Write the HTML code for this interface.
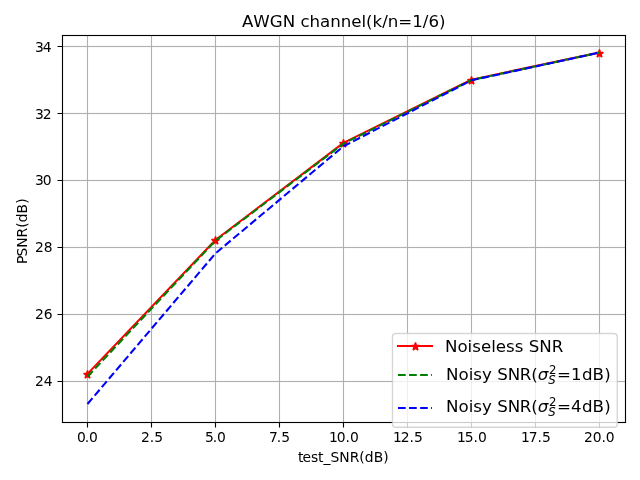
<!DOCTYPE html>
<html><head><meta charset="utf-8"><title>AWGN channel(k/n=1/6)</title>
<style>html,body{margin:0;padding:0;background:#fff;width:640px;height:480px;overflow:hidden}svg{display:block}</style>
</head><body>
<svg width="640" height="480" viewBox="0 0 640 480">
<rect x="0" y="0" width="640" height="480" fill="#ffffff"/>
<defs><clipPath id="ax"><rect x="61.900" y="35.000" width="563.100" height="386.580"/></clipPath></defs>
<path d="M87.5 422.5V35.5M151.5 422.5V35.5M215.5 422.5V35.5M279.5 422.5V35.5M343.5 422.5V35.5M407.5 422.5V35.5M471.5 422.5V35.5M535.5 422.5V35.5M599.5 422.5V35.5" stroke="#b0b0b0" stroke-width="1.1111" fill="none" stroke-linecap="square"/>
<path d="M61.944 380.9444H626.056V382.0556H61.944ZM61.944 313.9444H626.056V315.0556H61.944ZM61.944 246.9444H626.056V248.0556H61.944ZM61.944 179.9444H626.056V181.0556H61.944ZM61.944 112.9444H626.056V114.0556H61.944ZM61.944 45.9444H626.056V47.0556H61.944Z" fill="#b0b0b0"/>
<path d="M61.944 380H626.056V381H61.944ZM61.944 382H626.056V383H61.944ZM61.944 313H626.056V314H61.944ZM61.944 315H626.056V316H61.944ZM61.944 246H626.056V247H61.944ZM61.944 248H626.056V249H61.944ZM61.944 179H626.056V180H61.944ZM61.944 181H626.056V182H61.944ZM61.944 112H626.056V113H61.944ZM61.944 114H626.056V115H61.944ZM61.944 45H626.056V46H61.944ZM61.944 47H626.056V48H61.944Z" fill="#b0b0b0" fill-opacity="0.063"/>
<path d="M87.5 422.50v5.000M151.5 422.50v5.000M215.5 422.50v5.000M279.5 422.50v5.000M343.5 422.50v5.000M407.5 422.50v5.000M471.5 422.50v5.000M535.5 422.50v5.000M599.5 422.50v5.000M62.50 381.5h-5.000M62.50 314.5h-5.000M62.50 247.5h-5.000M62.50 180.5h-5.000M62.50 113.5h-5.000M62.50 46.5h-5.000" stroke="#000" stroke-width="1.1111" fill="none"/>
<text x="76.933 84.683 89.058" y="442.000" style="font-family:'DejaVu Sans','Liberation Sans',sans-serif;font-size:13.889px">0.0</text>
<text x="141.047 149.797 154.172" y="442.000" style="font-family:'DejaVu Sans','Liberation Sans',sans-serif;font-size:13.889px">2.5</text>
<text x="204.910 212.660 217.035" y="442.000" style="font-family:'DejaVu Sans','Liberation Sans',sans-serif;font-size:13.889px">5.0</text>
<text x="269.024 276.774 281.149" y="442.000" style="font-family:'DejaVu Sans','Liberation Sans',sans-serif;font-size:13.889px">7.5</text>
<text x="328.950 336.825 345.575 349.950" y="442.000" style="font-family:'DejaVu Sans','Liberation Sans',sans-serif;font-size:13.889px">10.0</text>
<text x="392.939 400.814 409.564 413.939" y="442.000" style="font-family:'DejaVu Sans','Liberation Sans',sans-serif;font-size:13.889px">12.5</text>
<text x="456.927 464.802 473.552 477.927" y="442.000" style="font-family:'DejaVu Sans','Liberation Sans',sans-serif;font-size:13.889px">15.0</text>
<text x="520.916 528.791 537.541 541.916" y="442.000" style="font-family:'DejaVu Sans','Liberation Sans',sans-serif;font-size:13.889px">17.5</text>
<text x="583.967 592.717 601.467 605.842" y="442.000" style="font-family:'DejaVu Sans','Liberation Sans',sans-serif;font-size:13.889px">20.0</text>
<text x="34.930 43.680" y="386.000" style="font-family:'DejaVu Sans','Liberation Sans',sans-serif;font-size:13.889px">24</text>
<text x="34.930 43.680" y="319.000" style="font-family:'DejaVu Sans','Liberation Sans',sans-serif;font-size:13.889px">26</text>
<text x="34.930 43.680" y="252.000" style="font-family:'DejaVu Sans','Liberation Sans',sans-serif;font-size:13.889px">28</text>
<text x="34.930 42.680" y="185.000" style="font-family:'DejaVu Sans','Liberation Sans',sans-serif;font-size:13.889px">30</text>
<text x="34.930 42.680" y="119.000" style="font-family:'DejaVu Sans','Liberation Sans',sans-serif;font-size:13.889px">32</text>
<text x="34.930 42.680" y="52.000" style="font-family:'DejaVu Sans','Liberation Sans',sans-serif;font-size:13.889px">34</text>
<text x="297.950 302.450 310.950 318.075 323.575 330.575 339.325 349.700 359.325 364.825 373.700 383.325" y="462.000" style="font-family:'DejaVu Sans','Liberation Sans',sans-serif;font-size:13.889px">test_SNR(dB)</text>
<g transform="rotate(-90)"><text x="-263.925 -256.550 -247.800 -237.425 -227.800 -222.300 -213.425 -203.800" y="26.560" style="font-family:'DejaVu Sans','Liberation Sans',sans-serif;font-size:13.889px">PSNR(dB)</text></g>
<g clip-path="url(#ax)">
<polyline points="87.495,373.885 215.473,240.005 343.450,142.941 471.427,79.683 599.405,52.572" fill="none" stroke="#ff0000" stroke-width="2.0833" stroke-linecap="square" stroke-linejoin="round"/>
<path d="M87.500 370.533 L86.565 373.412 L83.537 373.412 L85.986 375.192 L85.051 378.071 L87.500 376.292 L89.949 378.071 L89.014 375.192 L91.463 373.412 L88.435 373.412Z" fill="#ff0000" stroke="#ff0000" stroke-width="1.3889" stroke-linejoin="bevel"/>
<path d="M215.500 236.533 L214.565 239.412 L211.537 239.412 L213.986 241.192 L213.051 244.071 L215.500 242.292 L217.949 244.071 L217.014 241.192 L219.463 239.412 L216.435 239.412Z" fill="#ff0000" stroke="#ff0000" stroke-width="1.3889" stroke-linejoin="bevel"/>
<path d="M343.500 139.533 L342.565 142.412 L339.537 142.412 L341.986 144.192 L341.051 147.071 L343.500 145.292 L345.949 147.071 L345.014 144.192 L347.463 142.412 L344.435 142.412Z" fill="#ff0000" stroke="#ff0000" stroke-width="1.3889" stroke-linejoin="bevel"/>
<path d="M471.500 76.533 L470.565 79.412 L467.537 79.412 L469.986 81.192 L469.051 84.071 L471.500 82.292 L473.949 84.071 L473.014 81.192 L475.463 79.412 L472.435 79.412Z" fill="#ff0000" stroke="#ff0000" stroke-width="1.3889" stroke-linejoin="bevel"/>
<path d="M599.500 49.533 L598.565 52.412 L595.537 52.412 L597.986 54.192 L597.051 57.071 L599.500 55.292 L601.949 57.071 L601.014 54.192 L603.463 52.412 L600.435 52.412Z" fill="#ff0000" stroke="#ff0000" stroke-width="1.3889" stroke-linejoin="bevel"/>
<polyline points="87.495,376.563 215.473,240.674 343.450,143.611 471.427,80.017 599.405,52.572" fill="none" stroke="#008000" stroke-width="2.0833" stroke-dasharray="7.708 3.333" stroke-linejoin="round"/>
<polyline points="87.495,404.008 215.473,253.393 343.450,146.288 471.427,80.352 599.405,52.572" fill="none" stroke="#0000ff" stroke-width="2.0833" stroke-dasharray="7.708 3.333" stroke-linejoin="round"/>
</g>
<path d="M62.5 422.5V35.5M625.5 422.5V35.5" stroke="#000" stroke-width="1.1111" fill="none" stroke-linecap="square"/>
<path d="M61.9444 421.9444H626.0556V423.0556H61.9444ZM61.9444 34.9444H626.0556V36.0556H61.9444Z" fill="#000"/>
<path d="M61.944 421H626.056V422H61.944ZM61.944 423H626.056V424H61.944ZM61.944 34H626.056V35H61.944ZM61.944 36H626.056V37H61.944Z" fill="#000" fill-opacity="0.055"/>
<text x="241.950 253.325 269.825 282.700 295.200 300.450 309.575 320.075 330.200 340.700 351.200 361.450 366.075 372.450 382.200 387.825 398.325 412.200 422.825 428.450 438.950" y="27.000" style="font-family:'DejaVu Sans','Liberation Sans',sans-serif;font-size:16.667px">AWGN channel(k/n=1/6)</text>
<rect x="392.500" y="333.500" width="224.800" height="93.800" rx="3.333" ry="3.333" fill="#ffffff" fill-opacity="0.8" stroke="#cccccc" stroke-opacity="0.8" stroke-width="1.3889"/>
<path d="M398.000 346.000H432.000" stroke="#ff0000" stroke-width="2.0833" stroke-linecap="square"/>
<path d="M415.500 342.533 L414.565 345.412 L411.537 345.412 L413.986 347.192 L413.051 350.071 L415.500 348.292 L417.949 350.071 L417.014 347.192 L419.463 345.412 L416.435 345.412Z" fill="#ff0000" stroke="#ff0000" stroke-width="1.3889" stroke-linejoin="bevel"/>
<path d="M398.000 375.000H432.000" stroke="#008000" stroke-width="2.0833" stroke-dasharray="7.708 3.333"/>
<path d="M398.000 408.000H432.000" stroke="#0000ff" stroke-width="2.0833" stroke-dasharray="7.708 3.333"/>
<text x="444.955 457.455 467.580 472.205 480.955 491.205 495.830 506.080 514.830 523.580 528.830 539.330 551.830" y="352.000" style="font-family:'DejaVu Sans','Liberation Sans',sans-serif;font-size:16.667px">Noiseless SNR</text>
<text style="font-family:'DejaVu Sans','Liberation Sans',sans-serif;font-size:16.667px"><tspan x="446.000 458.467 468.664 473.295 481.978 491.841 497.139 507.719 519.665 531.246" y="380.000">Noisy SNR(</tspan><tspan x="537.748" y="380.000" font-style="oblique">σ</tspan><tspan x="548.311" y="384.333" font-size="11.667px" font-style="oblique">S</tspan><tspan x="549.056" y="374.381" font-size="11.667px">2</tspan><tspan x="556.934 570.899 581.903 592.482 604.216" y="380.000">=1dB)</tspan></text>
<text style="font-family:'DejaVu Sans','Liberation Sans',sans-serif;font-size:16.667px"><tspan x="446.000 458.467 468.664 473.295 481.978 491.841 497.139 507.719 519.665 531.246" y="412.100">Noisy SNR(</tspan><tspan x="537.748" y="412.100" font-style="oblique">σ</tspan><tspan x="548.311" y="416.433" font-size="11.667px" font-style="oblique">S</tspan><tspan x="549.056" y="406.481" font-size="11.667px">2</tspan><tspan x="556.934 570.899 581.903 592.482 604.216" y="412.100">=4dB)</tspan></text>
</svg>
</body></html>
